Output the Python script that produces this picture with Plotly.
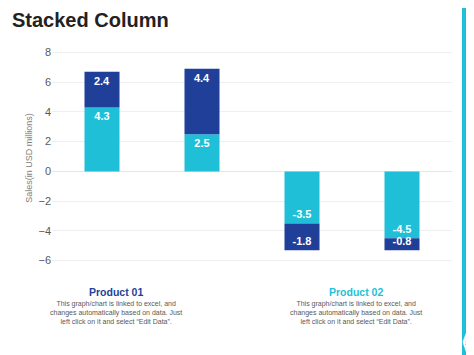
import plotly.graph_objects as go

categories = ["C1", "C2", "C3", "C4"]
series1_name = "Series 1"
series1_values = [4.3, 2.5, -3.5, -4.5]
series2_name = "Series 2"
series2_values = [2.4, 4.4, -1.8, -0.8]
y_ticks = [8, 6, 4, 2, 0, -2, -4, -6]
title_text = "Stacked Column"
y_title = "Sales(in USD millions)"
product_labels = ["Product 01", "Product 02"]
desc_text = "This graph/chart is linked to excel, and<br>changes automatically based on data. Just<br>left click on it and select \u201cEdit Data\u201d."
page_no = "38"

CYAN = "#1FBFD8"
NAVY = "#1F3F99"
FONT = "Liberation Sans, Arial, sans-serif"

# page offset from default body margin
OFF = 8
W, H = 474 - OFF, 355 - OFF
L, T, R, B = 52 - OFF, 45 - OFF, 22, 84
PW, PH = W - L - R, H - T - B

def px(xpage):
    return (xpage - OFF - L) / PW

def py(ypage):
    return 1 - (ypage - OFF - T) / PH

fig = go.Figure()
for name, vals, col in [(series1_name, series1_values, CYAN), (series2_name, series2_values, NAVY)]:
    fig.add_trace(go.Bar(
        x=categories, y=vals, name=name, marker=dict(color=col, line=dict(width=0)),
        text=[f"<b>{v:.1f}</b>" for v in vals], textposition="inside", insidetextanchor="end",
        textfont=dict(color="white", size=11, family=FONT), textangle=0,
        hoverinfo="skip", cliponaxis=False,
    ))

fig.update_layout(
    template="none",
    barmode="relative", bargap=0.65,
    width=W, height=H,
    margin=dict(l=L, r=R, t=T, b=B, pad=0),
    paper_bgcolor="white", plot_bgcolor="white",
    showlegend=False,
    uniformtext=dict(minsize=8, mode="show"),
    font=dict(family=FONT),
    xaxis=dict(showticklabels=False, showgrid=False, zeroline=False, showline=False, ticks="", automargin=False),
    yaxis=dict(range=[-6.7, 8.5], tickvals=y_ticks, ticks="", showline=False, automargin=False,
               gridcolor="#EFEFEF", gridwidth=1, zeroline=True, zerolinecolor="#E6E6E6", zerolinewidth=1,
               tickfont=dict(size=11, color="#595959", family=FONT),
               title=dict(text=y_title, font=dict(size=9, color="#7F7F7F", family=FONT), standoff=4)),
)

# Title
fig.add_annotation(text=f"<b>{title_text}</b>", xref="paper", yref="paper", x=px(10), y=py(20),
                   xanchor="left", yanchor="middle", showarrow=False,
                   font=dict(size=20, color="#222222", family=FONT))

# Product labels and descriptions
for lbl, xc, col in [(product_labels[0], 116, NAVY), (product_labels[1], 356, CYAN)]:
    fig.add_annotation(text=f"<b>{lbl}</b>", xref="paper", yref="paper", x=px(xc), y=py(292),
                       xanchor="center", yanchor="middle", showarrow=False,
                       font=dict(size=10.5, color=col, family=FONT))
    fig.add_annotation(text=desc_text, xref="paper", yref="paper", x=px(xc), y=py(312.5),
                       xanchor="center", yanchor="middle", showarrow=False, align="center",
                       font=dict(size=7, color="#595959", family=FONT))

# Right stripe and page notch
fig.add_shape(type="rect", xref="paper", yref="paper", x0=px(462), x1=px(468), y0=py(355), y1=py(OFF),
              fillcolor=CYAN, line=dict(width=0), layer="above")
fig.add_shape(type="path", xref="paper", yref="paper",
              path=f"M {px(462.5)} {py(342)} L {px(466)} {py(333)} L {px(474)} {py(333)} L {px(474)} {py(352)} L {px(466)} {py(352)} Z",
              fillcolor="white", line=dict(width=0), layer="above")
fig.add_annotation(text=page_no, xref="paper", yref="paper", x=px(467.5), y=py(342.5), showarrow=False,
                   xanchor="center", yanchor="middle", font=dict(size=5, color="#595959", family=FONT))

fig.write_html("out.html")
